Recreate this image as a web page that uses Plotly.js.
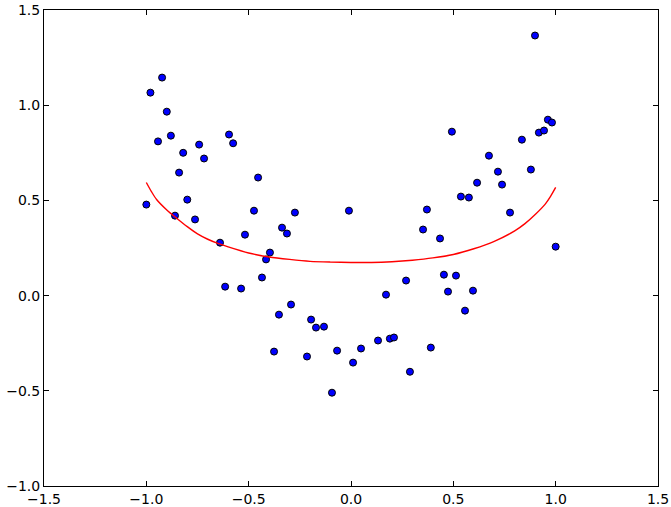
<!DOCTYPE html>
<html>
<head>
<meta charset="utf-8">
<script src="https://cdn.plot.ly/plotly-3.0.1.min.js"></script>
<style>html,body{margin:0;padding:0;background:#fff;}#chart{width:671px;height:507px;}</style>
</head>
<body>
<div id="chart"></div>
<script>
var pointsX = [-1.0,-0.98,-0.923,-0.943,-0.90,-0.88,-0.86,-0.84,-0.82,-0.80,-0.762,-0.742,-0.718,-0.64,-0.615,-0.596,-0.576,-0.537,-0.518,-0.474,-0.454,-0.435,-0.415,-0.396,-0.376,-0.352,-0.337,-0.313,-0.293,-0.274,-0.215,-0.195,-0.171,-0.132,-0.093,-0.068,-0.01,0.01,0.049,0.132,0.171,0.19,0.21,0.269,0.288,0.352,0.371,0.39,0.435,0.454,0.474,0.493,0.513,0.537,0.557,0.576,0.596,0.616,0.674,0.718,0.738,0.777,0.835,0.879,0.899,0.918,0.943,0.962,0.982,1.0];
var pointsY = [0.478,1.066,1.145,0.81,0.966,0.84,0.42,0.646,0.75,0.504,0.40,0.793,0.72,0.278,0.047,0.846,0.80,0.037,0.32,0.446,0.62,0.095,0.19,0.226,-0.294,-0.10,0.357,0.326,-0.047,0.436,-0.32,-0.126,-0.168,-0.163,-0.51,-0.289,0.446,-0.352,-0.278,-0.236,0.005,-0.226,-0.22,0.079,-0.40,0.347,0.452,-0.273,0.30,0.11,0.021,0.861,0.105,0.52,-0.079,0.515,0.026,0.593,0.735,0.651,0.583,0.436,0.819,0.662,1.366,0.856,0.867,0.924,0.909,0.257];
var curveX = [-1.0,-0.975,-0.95,-0.9,-0.85,-0.8,-0.75,-0.7,-0.65,-0.6,-0.5,-0.4,-0.3,-0.2,-0.1,0.0,0.1,0.2,0.3,0.4,0.5,0.6,0.7,0.8,0.85,0.9,0.95,0.975,1.0];
var curveY = [0.594,0.546,0.505,0.45,0.405,0.362,0.324,0.296,0.274,0.256,0.224,0.203,0.19,0.18,0.176,0.174,0.174,0.178,0.186,0.198,0.216,0.246,0.285,0.34,0.378,0.426,0.482,0.521,0.568];
var xTicks = [-1.5,-1.0,-0.5,0.0,0.5,1.0,1.5];
var yTicks = [-1.0,-0.5,0.0,0.5,1.0,1.5];

var traces = [
  {x: pointsX, y: pointsY, type: 'scatter', mode: 'markers',
   marker: {color: '#0000ff', size: 7, line: {color: '#000000', width: 1}}, hoverinfo: 'none'},
  {x: curveX, y: curveY, type: 'scatter', mode: 'lines',
   line: {color: '#ff0000', width: 1.4, shape: 'spline', smoothing: 0.8}, hoverinfo: 'none'}
];
var axisCommon = {
  showgrid: false, zeroline: false, showline: true, linecolor: '#000', linewidth: 1,
  mirror: 'allticks', ticks: 'inside', ticklen: 5, tickwidth: 1, tickcolor: '#000',
  tickfont: {family: 'DejaVu Sans', size: 14, color: '#000'}, tickformat: '.1f', tickmode: 'array'
};
var layout = {
  width: 671, height: 507, showlegend: false,
  margin: {l: 44, r: 13, t: 10, b: 21, pad: 0},
  paper_bgcolor: '#fff', plot_bgcolor: '#fff',
  xaxis: Object.assign({}, axisCommon, {range: [-1.5, 1.5], tickvals: xTicks}),
  yaxis: Object.assign({}, axisCommon, {range: [-1.0, 1.5], tickvals: yTicks})
};
Plotly.newPlot('chart', traces, layout, {staticPlot: true, displayModeBar: false});
</script>
</body>
</html>
